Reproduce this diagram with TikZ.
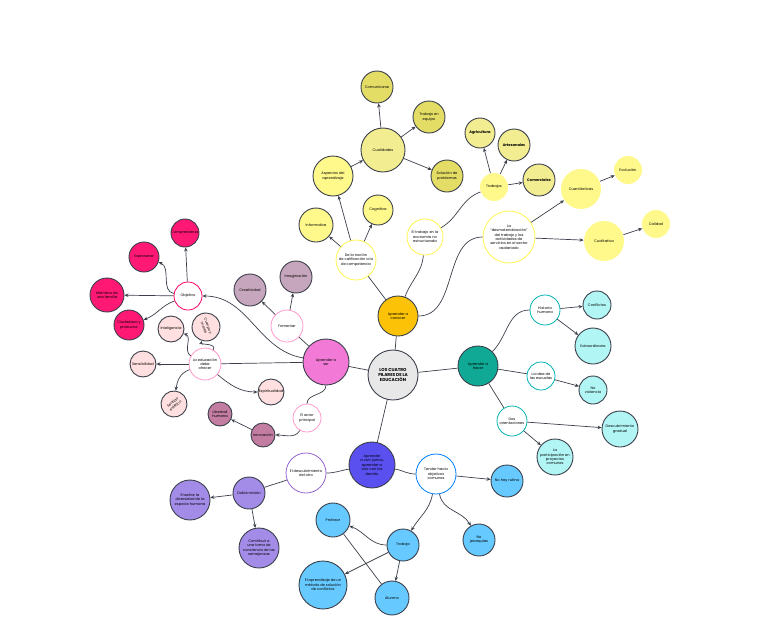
\documentclass[tikz,border=0pt]{standalone}
\usepackage{fontspec}
\setmainfont{Poppins}
\usetikzlibrary{arrows.meta}
\definecolor{ink}{HTML}{3A3F4A}
\definecolor{serc}{HTML}{F27AD6}
\definecolor{hacc}{HTML}{10A995}
\definecolor{vivc}{HTML}{5A4FEF}
\definecolor{mauve}{HTML}{C6A6BC}
\begin{document}
\begin{tikzpicture}[x=1pt,y=-1pt,
  c/.style={circle,draw=ink,line width=0.9pt,inner sep=0pt,align=center,font=\fontsize{3.6}{4.4}\selectfont},
  w/.style={c,fill=white,line width=0.8pt},
  ar/.style={-{Stealth[length=4pt,width=3.5pt]},draw=ink,line width=0.7pt},
  ln/.style={draw=ink,line width=0.7pt}]
\useasboundingbox (0,0) rectangle (768,640);
% main
\node[c,fill=gray!18,minimum size=50pt,font=\fontsize{4.3}{5.2}\selectfont\bfseries] (root) at (393,375) {LOS CUATRO\\PILARES DE LA\\EDUCACIÓN};
\node[c,fill=yellow!55!orange,minimum size=40pt] (con) at (398,316) {Aprender a\\conocer};
\node[c,fill=serc,minimum size=46pt] (ser) at (326,362) {Aprender a\\ser};
\node[c,fill=hacc,minimum size=40pt] (hac) at (478,366) {Aprender a\\hacer};
\node[c,fill=vivc,minimum size=46pt] (viv) at (372,465) {Aprender\\a vivir juntos,\\aprender a\\vivir con los\\demás};
% conocer
\tikzset{y1/.style={c,fill=yellow!45},y2/.style={c,fill=olive!30!yellow!40},y3/.style={c,fill=olive!45!yellow!55},yw/.style={w,draw=yellow!70},yn/.style={c,draw=none,fill=yellow!45}}
\node[yw,minimum size=40pt] (noc) at (356,260) {De la noción\\de calificación a la\\de competencia};
\node[y1,minimum size=34pt] (inf) at (316,225) {Informativa};
\node[y1,minimum size=40pt] (asp) at (333,176) {Aspectos del\\aprendizaje};
\node[y1,minimum size=30pt] (cog) at (378,210) {Cognitiva};
\node[y2,minimum size=44pt] (cua) at (383,150) {Cualidades};
\node[y3,minimum size=32pt] (com) at (377,87) {Comunicarse};
\node[y3,minimum size=32pt] (equ) at (429,117) {Trabajo en\\equipo};
\node[y3,minimum size=32pt] (sol) at (447,176) {Solución de\\problemas};
\node[yw,minimum size=36pt] (eco) at (425,237) {El trabajo en la\\economía no\\estructurada};
\node[yn,minimum size=28pt] (tra) at (494,187) {Trabajos};
\node[y2,minimum size=30pt] (agr) at (480,133) {\bfseries Agricultura};
\node[y2,minimum size=32pt] (art) at (514,145) {\bfseries Artesanales};
\node[y2,minimum size=32pt] (cme) at (539,180) {\bfseries Comerciales};
\node[yw,minimum size=52pt] (des) at (509,237) {La\\``desmaterialización''\\del trabajo y las\\actividades de\\servicios en el sector\\asalariado};
\node[yn,minimum size=40pt] (cnt) at (581,189) {Cuantitativas};
\node[yn,minimum size=28pt] (evo) at (628,170) {Evolución};
\node[yn,minimum size=40pt] (cul) at (604,241) {Cualitativa};
\node[yn,minimum size=28pt] (cal) at (656,224) {Calidad};
\draw[ln] (root)--(con); \draw[ln] (root)--(ser); \draw[ln] (root)--(hac); \draw[ln] (root)--(viv);
\draw[ln] (con)--(noc);
\draw[ln] (con) to[out=70,in=-95] (eco);
\draw[ln] (con) to[out=0,in=180] (des);
\draw[ar] (noc)--(inf); \draw[ar] (noc)--(asp); \draw[ar] (noc)--(cog);
\draw[ar] (asp)--(cua); \draw[ar] (cua)--(com); \draw[ar] (cua)--(equ); \draw[ar] (cua)--(sol);
\draw[ln] (eco) to[out=30,in=200] (tra);
\draw[ar] (tra)--(agr); \draw[ar] (tra)--(art); \draw[ar] (tra)--(cme);
\draw[ar] (des)--(cnt); \draw[ar] (des)--(cul); \draw[ar] (cnt)--(evo); \draw[ar] (cul)--(cal);
% hacer
\tikzset{tw/.style={w,draw=teal!60!cyan},tf/.style={c,fill=teal!25!cyan!30}}
\node[tw,minimum size=30pt] (his) at (545,310) {Historia\\humana};
\node[tf,minimum size=28pt] (cfl) at (597,305) {Conflictos};
\node[tf,minimum size=36pt] (ext) at (593,346) {Extraordinaria};
\node[tw,minimum size=28pt] (ide) at (541,376) {La idea de\\las escuelas};
\node[tf,minimum size=28pt] (nov) at (593,390) {No\\violencia};
\node[tw,minimum size=30pt] (dos) at (512,421) {Dos\\orientaciones};
\node[tf,minimum size=36pt] (dgr) at (620,429) {Descubrimiento\\gradual};
\node[tf,minimum size=36pt] (par) at (555,457) {La\\participación en\\proyectos\\comunes};
\draw[ln] (hac) to[out=45,in=180] (his); \draw[ar] (his)--(cfl); \draw[ar] (his)--(ext);
\draw[ln] (hac)--(ide); \draw[ar] (ide)--(nov);
\draw[ln] (hac)--(dos); \draw[ar] (dos)--(dgr); \draw[ar] (dos)--(par);
% ser
\tikzset{pw/.style={w,draw=pink!80!magenta},pm/.style={c,fill=mauve},pr/.style={c,fill=red!60!magenta!90},pl/.style={c,fill=pink!50},pd/.style={c,fill=violet!35!pink!80!gray}}
\node[pw,minimum size=32pt] (fom) at (287,326) {Fomentar};
\node[pm,minimum size=32pt] (cre) at (250,290) {Creatividad};
\node[pm,minimum size=32pt] (ima) at (296,277) {Imaginación};
\node[w,draw=red!60!magenta,minimum size=28pt] (obj) at (188,296) {Objetivo};
\node[pr,minimum size=28pt] (cpr) at (185,233) {Comprenderse};
\node[pr,minimum size=30pt] (exp) at (144,257) {Expresarse};
\node[pr,minimum size=34pt] (mie) at (107,295) {Miembro de\\una familia};
\node[pr,minimum size=30pt] (ciu) at (129,325) {Ciudadano y\\productor};
\node[pw,minimum size=32pt] (edu) at (205,364) {La educación\\debe\\ofrecer};
\node[pl,minimum size=26pt] (int) at (171,329) {Inteligencia};
\node[pl,minimum size=28pt,rotate=-70] (cue) at (206,327) {Cuerpo y\\mente};
\node[pl,minimum size=26pt] (sen) at (143,364) {Sensibilidad};
\node[pl,minimum size=26pt,rotate=40] (est) at (174,404) {Sentido\\estético};
\node[pl,minimum size=26pt] (esp) at (271,392) {Espiritualidad};
\node[pw,minimum size=28pt] (act) at (307,418) {El actor\\principal};
\node[pd,minimum size=24pt] (lib) at (220,414) {Libertad\\humana};
\node[pd,minimum size=24pt] (inn) at (263,435) {Innovación};
\draw[ln] (ser)--(fom); \draw[ar] (fom)--(cre); \draw[ar] (fom)--(ima);
\draw[ar] (ser) to[out=170,in=0] (obj);
\draw[ar] (obj)--(cpr); \draw[ar] (obj) to[out=170,in=-20] (exp); \draw[ar] (obj)--(mie); \draw[ar] (obj) to[out=200,in=20] (ciu);
\draw[ln] (ser)--(edu);
\draw[ar] (edu) to[out=150,in=-20] (int); \draw[ar] (edu) to[out=60,in=-60] (cue); \draw[ar] (edu)--(sen);
\draw[ar] (edu) to[out=200,in=60] (est); \draw[ar] (edu) to[out=-40,in=180] (esp);
\draw[ln] (ser) to[out=-90,in=90] (act); \draw[ar] (act) to[out=-120,in=0] (inn); \draw[ar] (inn)--(lib);
% vivir
\tikzset{vf/.style={c,fill=violet!40!blue!45},bf/.style={c,fill=blue!35!cyan!60}}
\node[w,draw=blue!40!violet!60,minimum size=40pt] (otr) at (306,473) {El descubrimiento\\del otro};
\node[vf,minimum size=32pt] (dob) at (249,493) {Doble misión};
\node[vf,minimum size=40pt] (ens) at (190,500) {Enseñar la\\diversidad de la\\especie humana};
\node[vf,minimum size=40pt] (cnc) at (259,548) {Contribuir a\\una toma de\\conciencia de las\\semejanzas};
\node[w,draw=blue!50!cyan,minimum size=40pt] (ten) at (436,474) {Tender hacia\\objetivos\\comunes};
\node[bf,minimum size=32pt] (rut) at (507,481) {No hay rutina};
\node[bf,minimum size=32pt] (trb) at (403,545) {Trabajo};
\node[bf,minimum size=32pt] (jer) at (479,540) {No\\jerarquías};
\node[bf,minimum size=34pt] (pro) at (333,520) {Profesor};
\node[bf,minimum size=34pt] (alu) at (392,598) {Alumno};
\node[bf,minimum size=48pt] (apr) at (323,585) {El aprendizaje de un\\método de solución\\de conflictos};
\draw[ln] (viv) to[out=190,in=0] (otr); \draw[ln] (otr) to[out=200,in=20] (dob);
\draw[ar] (dob)--(ens); \draw[ar] (dob)--(cnc);
\draw[ln] (viv) to[out=-10,in=180] (ten); \draw[ar] (ten)--(rut);
\draw[ar] (ten) to[out=-100,in=60] (trb); \draw[ar] (ten) to[out=-80,in=120] (jer);
\draw[ar] (trb) to[out=180,in=-20] (pro); \draw[ar] (trb)--(alu); \draw[ar] (trb)--(apr);
\draw[ln] (pro)--(alu);
\end{tikzpicture}
\end{document}
